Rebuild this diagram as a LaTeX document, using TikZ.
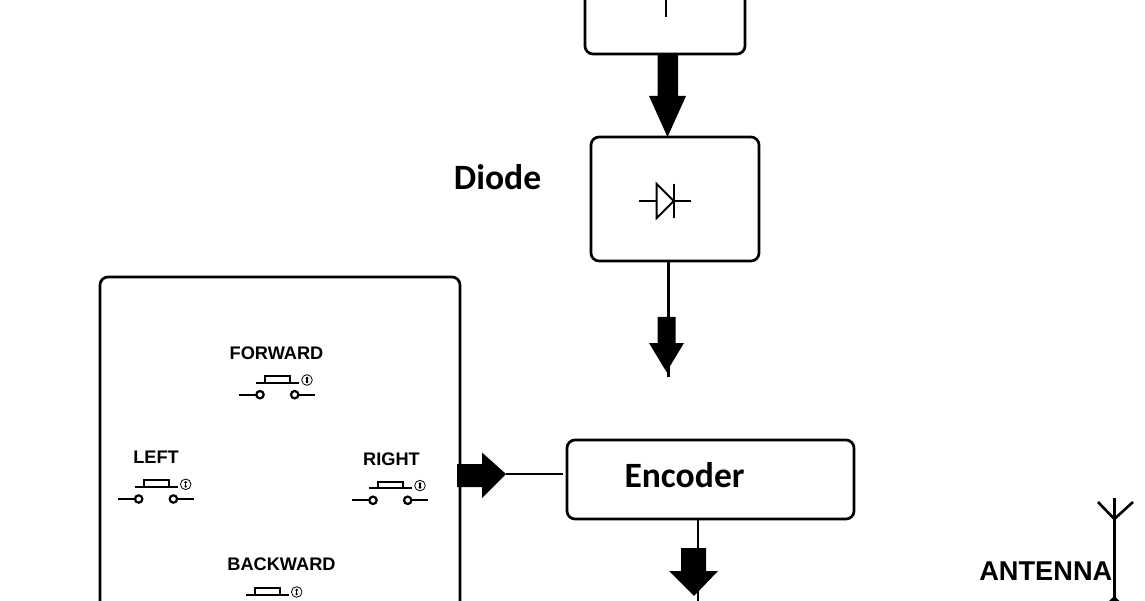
\documentclass[tikz,border=0pt]{standalone}
\usepackage{fontspec}
\setmainfont{Liberation Sans}
\newfontfamily\calib{Carlito}
\begin{document}
\begin{tikzpicture}[x=1pt,y=-1pt,
  box/.style={draw=black,line width=2.7pt,rounded corners=8pt,fill=white,inner sep=0pt,minimum width=0pt},
  wire/.style={draw=black,line width=2.6pt},
  thin wire/.style={draw=black,line width=2pt},
  blockarrow/.style={fill=black,draw=none},
  swlabel/.style={font=\bfseries\fontsize{18.2}{20}\selectfont,anchor=base,inner sep=0pt},
  biglabel/.style={font=\calib\bfseries\fontsize{35.6}{40}\selectfont,anchor=base,inner sep=0pt},
  pics/pushswitch/.style={code={
    \draw[line width=2.3pt] (-4,-12) -- (39,-12);
    \draw[line width=1.8pt] (5,-12) -- (5,-18.7) -- (30,-18.7) -- (30,-12);
    \draw[line width=2.3pt] (-21,0) -- (-4,0);
    \draw[line width=2.2pt] (0,0) circle (3.7);
    \draw[line width=2.2pt] (34.7,0) circle (3.7);
    \draw[line width=2.3pt] (38.4,0) -- (55,0);
    \draw[line width=.8pt] (47,-14.7) circle (5.3);
    \draw[line width=1.2pt] (47,-17.4) -- (47,-12);
    \fill (45.4,-16.2) -- (47,-18.2) -- (48.6,-16.2) -- cycle;
    \fill (45.4,-13.2) -- (47,-11.2) -- (48.6,-13.2) -- cycle;
  }}]
\useasboundingbox (0,0) rectangle (1145,601);
\clip (0,0) rectangle (1145,601);
\fill[white] (0,0) rectangle (1145,601);

% boxes
\node[box,minimum width=160pt,minimum height=94pt] (source) at (665,7) {};
\node[box,minimum width=168pt,minimum height=124pt] (diode) at (675,199) {};
\node[box,minimum width=287pt,minimum height=79pt] (encoder) at (710.5,479.5) {};
\node[box,minimum width=360pt,minimum height=400pt] (panel) at (280,477) {};

% inner line of the top box
\coordinate (srcA) at (665.5,0);
\coordinate (srcB) at (665.5,17);
\draw[thin wire] (srcA) -- (srcB);

% arrow top -> diode
\coordinate (tipA) at (667.5,137);
\fill[blockarrow] (657.7,55) -- (678,55) -- (678,96) -- (686,96) -- (tipA) -- (649,96) -- (657.7,96) -- cycle;

% diode symbol
\coordinate (dL) at (639,201);
\coordinate (dR) at (691,201);
\coordinate (dA) at (656.7,184);
\coordinate (dB) at (656.7,218);
\coordinate (dT) at (673.7,201);
\draw[line width=2pt] (dL) -- (dA |- dL);
\draw[line width=2pt] (dT) -- (dR);
\draw[line width=2pt,line join=miter] (dA) -- (dB) -- (dT) -- cycle;
\draw[line width=2pt] (673.7,184) -- (673.7,218);

% diode -> encoder arrow
\coordinate (outDiode) at (diode.south -| 668.5,0);
\coordinate (endDiode) at (668.5,377);
\draw[wire] (outDiode) -- (endDiode);
\fill[blockarrow] (657.5,317) -- (675.5,317) -- (675.5,343) -- (684,343) -- (666.5,372) -- (649,343) -- (657.5,343) -- cycle;

% panel -> encoder arrow
\coordinate (tipP) at (506,474);
\coordinate (inEnc) at (563.3,474);
\draw[line width=1.8pt] (tipP) -- (inEnc);
\fill[blockarrow] (457,464) -- (482,464) -- (482,452.5) -- (tipP) -- (482,498) -- (482,487) -- (457,487) -- cycle;

% encoder output arrow
\coordinate (outEnc) at (encoder.south -| 698,0);
\coordinate (endEnc) at (698,601);
\draw[wire] (outEnc) -- (endEnc);
\fill[blockarrow] (681,548) -- (706,548) -- (706,571) -- (718,571) -- (694,596) -- (669,571) -- (681,571) -- cycle;

% texts
\node[biglabel] (diodeT) at (497.5,190) {Diode};
\node[biglabel] (encT) at (684.5,487) {Encoder};
\node[swlabel] (fw) at (276.5,359.5) {FORWARD};
\node[swlabel] (lf) at (156,463.5) {LEFT};
\node[swlabel] (rt) at (391.5,465.5) {RIGHT};
\node[swlabel] (bw) at (281.5,570.5) {BACKWARD};
\node[font=\bfseries\fontsize{27.2}{30}\selectfont,anchor=base east,inner sep=0pt] (antT) at (1112.5,580) {ANTENNA};

% switches
\pic at (260,394.7) {pushswitch};
\pic at (138.7,499) {pushswitch};
\pic at (373,500.3) {pushswitch};
\pic at (249.7,606.7) {pushswitch};

% antenna
\coordinate (antTop) at (1114.3,498);
\coordinate (antBot) at (1114.3,601);
\coordinate (antFork) at (1114.3,519);
\draw[wire] (antTop) -- (antBot);
\draw[wire] (1098,502) -- (antFork) -- (1133,502);
\fill (1106,604) -- (1114.3,596) -- (1122.6,604) -- cycle;
\end{tikzpicture}
\end{document}
